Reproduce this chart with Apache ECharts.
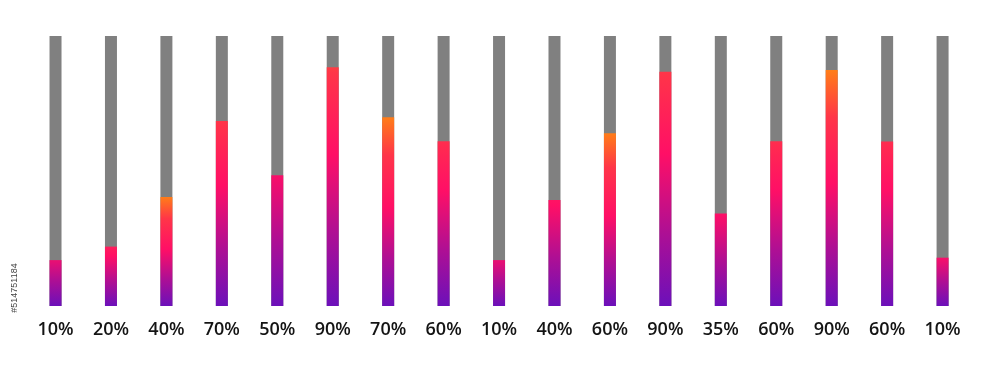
<!DOCTYPE html>
<html>
<head>
<meta charset="utf-8">
<script src="https://cdn.jsdelivr.net/npm/echarts@6/dist/echarts.min.js"></script>
<style>
html,body{margin:0;padding:0;background:#fff;}
#chart{width:1000px;height:375px;}
</style>
</head>
<body>
<div id="chart"></div>
<script>
// Category labels shown under each bar
const labels = ['10%','20%','40%','70%','50%','90%','70%','60%','10%','40%','60%','90%','35%','60%','90%','60%','10%'];
// Drawn fill level of each bar (percent of the track)
const fillValues = [17.0, 22.0, 40.4, 68.5, 48.4, 88.4, 69.9, 61.0, 17.0, 39.3, 64.0, 86.8, 34.3, 61.0, 87.4, 60.9, 17.9];
// Full track value
const trackMax = 100;
// How far along the purple->orange ramp each bar's top colour reaches
const rampExtent = [0.45, 0.62, 1.0, 0.8, 0.5, 0.82, 1.0, 0.74, 0.45, 0.55, 1.0, 0.8, 0.52, 0.74, 1.0, 0.74, 0.5];
// Global colour ramp (position -> colour)
const rampStops = [[0, '#6c10ba'], [0.25, '#ae0f94'], [0.52, '#ff0f66'], [0.8, '#ff3548'], [1.0, '#ff7d18']];

function hexToRgb(h){h=h.replace('#','');return [parseInt(h.substr(0,2),16),parseInt(h.substr(2,2),16),parseInt(h.substr(4,2),16)];}
function rampAt(s){
  for(let i=1;i<rampStops.length;i++){
    if(s<=rampStops[i][0]){
      const a=rampStops[i-1], b=rampStops[i];
      const f=(s-a[0])/(b[0]-a[0]);
      const ca=hexToRgb(a[1]), cb=hexToRgb(b[1]);
      const c=ca.map((v,k)=>Math.round(v+(cb[k]-v)*f));
      return 'rgb('+c.join(',')+')';
    }
  }
  return rampStops[rampStops.length-1][1];
}
function barGradient(t){
  const stops=[{offset:0,color:rampAt(t)}];
  for(let i=rampStops.length-1;i>=0;i--){
    const s=rampStops[i][0];
    if(s<t){stops.push({offset:1-s/t,color:rampStops[i][1]});}
  }
  return new echarts.graphic.LinearGradient(0,0,0,1,stops);
}

const chart = echarts.init(document.getElementById('chart'), null, {renderer:'canvas'});
chart.setOption({
  animation:false,
  backgroundColor:'#ffffff',
  grid:{left:27.8,right:29.7,top:36,bottom:69,containLabel:false},
  xAxis:{
    type:'category',
    data:labels,
    axisLine:{show:false},
    axisTick:{show:false},
    axisLabel:{
      margin:15,
      fontFamily:'Open Sans',
      fontWeight:600,
      fontSize:18,
      color:'#141414',
      interval:0
    }
  },
  yAxis:{type:'value',min:0,max:trackMax,show:false,splitLine:{show:false}},
  series:[
    {
      type:'bar',
      barWidth:12,
      barGap:'-100%',
      silent:true,
      itemStyle:{color:'#808080'},
      data:labels.map(()=>trackMax),
      z:1
    },
    {
      type:'bar',
      barWidth:12,
      barGap:'-100%',
      data:fillValues.map((v,i)=>({value:v,itemStyle:{color:barGradient(rampExtent[i])}})),
      z:2
    }
  ],
  graphic:[{
    type:'text',
    x:15,
    y:288,
    rotation:Math.PI/2,
    style:{text:'#514751184',fontFamily:'Liberation Sans',fontSize:9,fill:'#444',align:'center',verticalAlign:'middle'}
  }]
});
</script>
</body>
</html>
